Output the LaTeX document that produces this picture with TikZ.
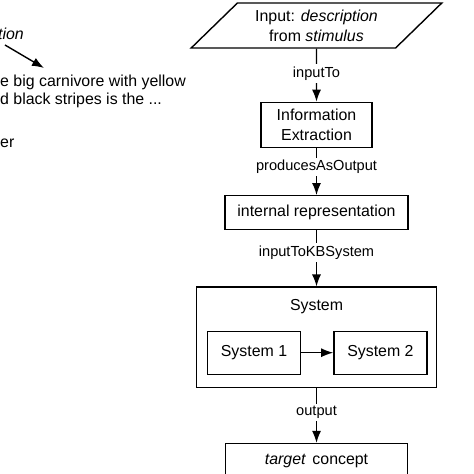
\documentclass[tikz,border=0pt]{standalone}
\usepackage{fontspec}
\setmainfont{Liberation Sans}
\usepackage{tikz}
\usetikzlibrary{positioning,arrows.meta,shapes.geometric}

\tikzset{
  box/.style={draw, line width=1.4pt, font=\fontsize{15.9}{20}\selectfont, inner sep=0pt, align=center},
  lbl/.style={fill=white, font=\fontsize{14.6}{17}\selectfont, inner sep=2.5pt},
  arr/.style={line width=1.4pt, -{Latex[length=12pt,width=9pt]}},
  note/.style={font=\fontsize{15.9}{19}\selectfont, inner sep=0pt, anchor=base west},
}

\begin{document}
\begin{tikzpicture}[x=1pt,y=1pt]
\useasboundingbox (0,0) rectangle (474,474);
\clip (0,0) rectangle (474,474);
% left: the example text
\node[note] (tion) at (-2,434) {\textit{tion}};
\node[note] (line1) at (0,387) {e big carnivore with yellow};
\node[note] (line2) at (0,369) {d black stripes is the ...};
\node[note] (er) at (0,326) {er};
\coordinate (ta) at (5,429);
\coordinate (tb) at (44,406);
\draw[arr] (ta) -- (tb);
% right: the flow
\node[box, trapezium, trapezium left angle=41.5, trapezium right angle=138.5, trapezium stretches=true, minimum width=251pt, minimum height=45pt] (inp) at (316.5,448.5) {Input: \textit{description}\\from \textit{stimulus}};
\node[box, below=53pt of inp, minimum width=111pt, minimum height=45pt] (ie) {Information\\Extraction};
\node[box, below=47pt of ie, minimum width=183pt, minimum height=34pt] (ir) {internal representation};
\node[box, below=56pt of ir, minimum width=240pt, minimum height=100pt] (sysbox) {};
\node[font=\fontsize{15.9}{19}\selectfont] (systitle) at ([yshift=-20pt]sysbox.north) {System};
\node[box, minimum width=93pt, minimum height=43pt] (s1) at ([xshift=-62.5pt,yshift=-15.5pt]sysbox.center) {System 1};
\node[box, right=32pt of s1, minimum width=93pt, minimum height=43pt] (s2) {System 2};
\node[box, below=55pt of sysbox, minimum width=182pt, minimum height=34pt] (tc) {\textit{target}\hspace{2pt} concept};
\draw[arr] (inp) -- node[lbl, pos=0.47] {inputTo} (ie);
\draw[arr] (ie) -- node[lbl, pos=0.4] {producesAsOutput} (ir);
\draw[arr] (ir) -- node[lbl, pos=0.39] {inputToKBSystem} (sysbox);
\draw[arr] (s1) -- (s2);
\draw[arr] (sysbox) -- node[lbl, pos=0.45] {output} (tc);
\end{tikzpicture}
\end{document}
